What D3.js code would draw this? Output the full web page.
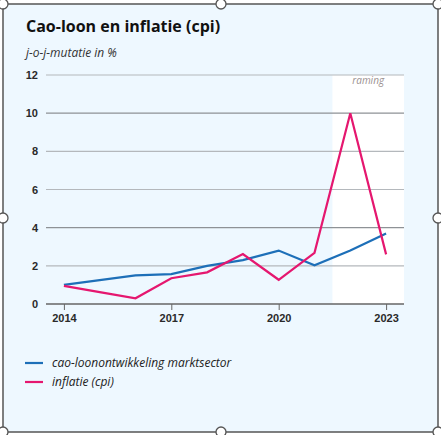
<!DOCTYPE html>
<meta charset="utf-8">
<style>
body { margin: 0; background: #fff; }
svg { font-family: "Open Sans", "Noto Sans", sans-serif; }
.grid line { stroke: #b4b8bc; stroke-width: 1.2; }
.axis text { font-size: 11px; fill: #2a2a2a; font-weight: 600; }
.axis path { display: none; }
.axis line { stroke: #666; }
.legend text { font-size: 12px; font-style: italic; fill: #222; }
</style>
<svg width="441" height="435"></svg>
<script src="https://d3js.org/d3.v7.min.js"></script>
<script>

var years = [2014, 2015, 2016, 2017, 2018, 2019, 2020, 2021, 2022, 2023];
var caoLoon = [1.0, 1.25, 1.5, 1.57, 2.0, 2.3, 2.8, 2.03, 2.8, 3.7];
var inflatie = [0.95, 0.62, 0.3, 1.35, 1.66, 2.62, 1.27, 2.68, 10.0, 2.6];
var yTicks = [0, 2, 4, 6, 8, 10, 12];
var xTicks = [2014, 2017, 2020, 2023];
var ramingStart = 2021.5;

var svg = d3.select("svg");

// frame
svg.append("rect")
    .attr("x", 3).attr("y", 4).attr("width", 435).attr("height", 428)
    .attr("fill", "#eef8ff")
    .attr("stroke", "#555").attr("stroke-width", 1.5);

var x = d3.scaleLinear().domain([2013.5, 2023.5]).range([46, 404]),
    y = d3.scaleLinear().domain([0, 12]).range([304, 75]);

// forecast band
svg.append("rect")
    .attr("x", x(ramingStart)).attr("y", y(12))
    .attr("width", x(2023.5) - x(ramingStart))
    .attr("height", y(0) - y(12))
    .attr("fill", "#fff");

svg.append("text")
    .attr("x", (x(ramingStart) + x(2023.5)) / 2)
    .attr("y", 84)
    .attr("text-anchor", "middle")
    .style("font-size", "10px").style("font-style", "italic")
    .attr("fill", "#9a9090")
    .text("raming");

svg.append("g")
    .attr("class", "grid")
  .selectAll("line")
  .data(yTicks.filter(function(d) { return d > 0; }))
  .enter().append("line")
    .attr("x1", x(2013.5)).attr("x2", x(2023.5))
    .attr("y1", function(d) { return y(d); })
    .attr("y2", function(d) { return y(d); })
    .style("stroke", function(d) { return (d == 10 || d == 4) ? "#8e9296" : null; });

svg.append("line")
    .attr("x1", x(2013.5)).attr("x2", x(2023.5))
    .attr("y1", y(0)).attr("y2", y(0))
    .attr("stroke", "#666").attr("stroke-width", 1.3);

svg.append("g")
    .attr("class", "axis")
    .attr("transform", "translate(40,0)")
    .call(d3.axisLeft(y).tickValues(yTicks).tickSize(0).tickPadding(2));

svg.append("g")
    .attr("class", "axis")
    .attr("transform", "translate(0," + y(0) + ")")
    .call(d3.axisBottom(x).tickValues(xTicks).tickFormat(d3.format("d")).tickSize(6).tickPadding(4));

var line = d3.line()
    .x(function(d, i) { return x(years[i]); })
    .y(function(d) { return y(d); });

svg.append("path").datum(caoLoon)
    .attr("d", line)
    .attr("fill", "none").attr("stroke", "#1d6fb8").attr("stroke-width", 2.2);

svg.append("path").datum(inflatie)
    .attr("d", line)
    .attr("fill", "none").attr("stroke", "#e5176f").attr("stroke-width", 2.2);

// titles
svg.append("text")
    .attr("x", 26).attr("y", 32)
    .style("font-size", "16px").style("font-weight", "bold")
    .attr("fill", "#111")
    .text("Cao-loon en inflatie (cpi)");

svg.append("text")
    .attr("x", 26).attr("y", 57)
    .style("font-size", "12px").style("font-style", "italic")
    .attr("fill", "#333")
    .text("j-o-j-mutatie in %");

// legend
var legend = svg.append("g").attr("class", "legend")
  .selectAll("g")
  .data([["cao-loonontwikkeling marktsector", "#1d6fb8"], ["inflatie (cpi)", "#e5176f"]])
  .enter().append("g")
    .attr("transform", function(d, i) { return "translate(25," + (363 + i * 19) + ")"; });

legend.append("line")
    .attr("x1", 0).attr("x2", 18)
    .attr("stroke", function(d) { return d[1]; }).attr("stroke-width", 2.2);

legend.append("text")
    .attr("x", 27).attr("y", 4)
    .text(function(d) { return d[0]; });

// selection handles
var handles = [[3, 4], [221, 4], [438, 4], [3, 218], [438, 218], [3, 432], [221, 432], [438, 432]];
svg.selectAll(".handle")
  .data(handles)
  .enter().append("circle")
    .attr("class", "handle")
    .attr("cx", function(d) { return d[0]; })
    .attr("cy", function(d) { return d[1]; })
    .attr("r", 5)
    .attr("fill", "#fff").attr("stroke", "#555").attr("stroke-width", 1.3);

</script>
